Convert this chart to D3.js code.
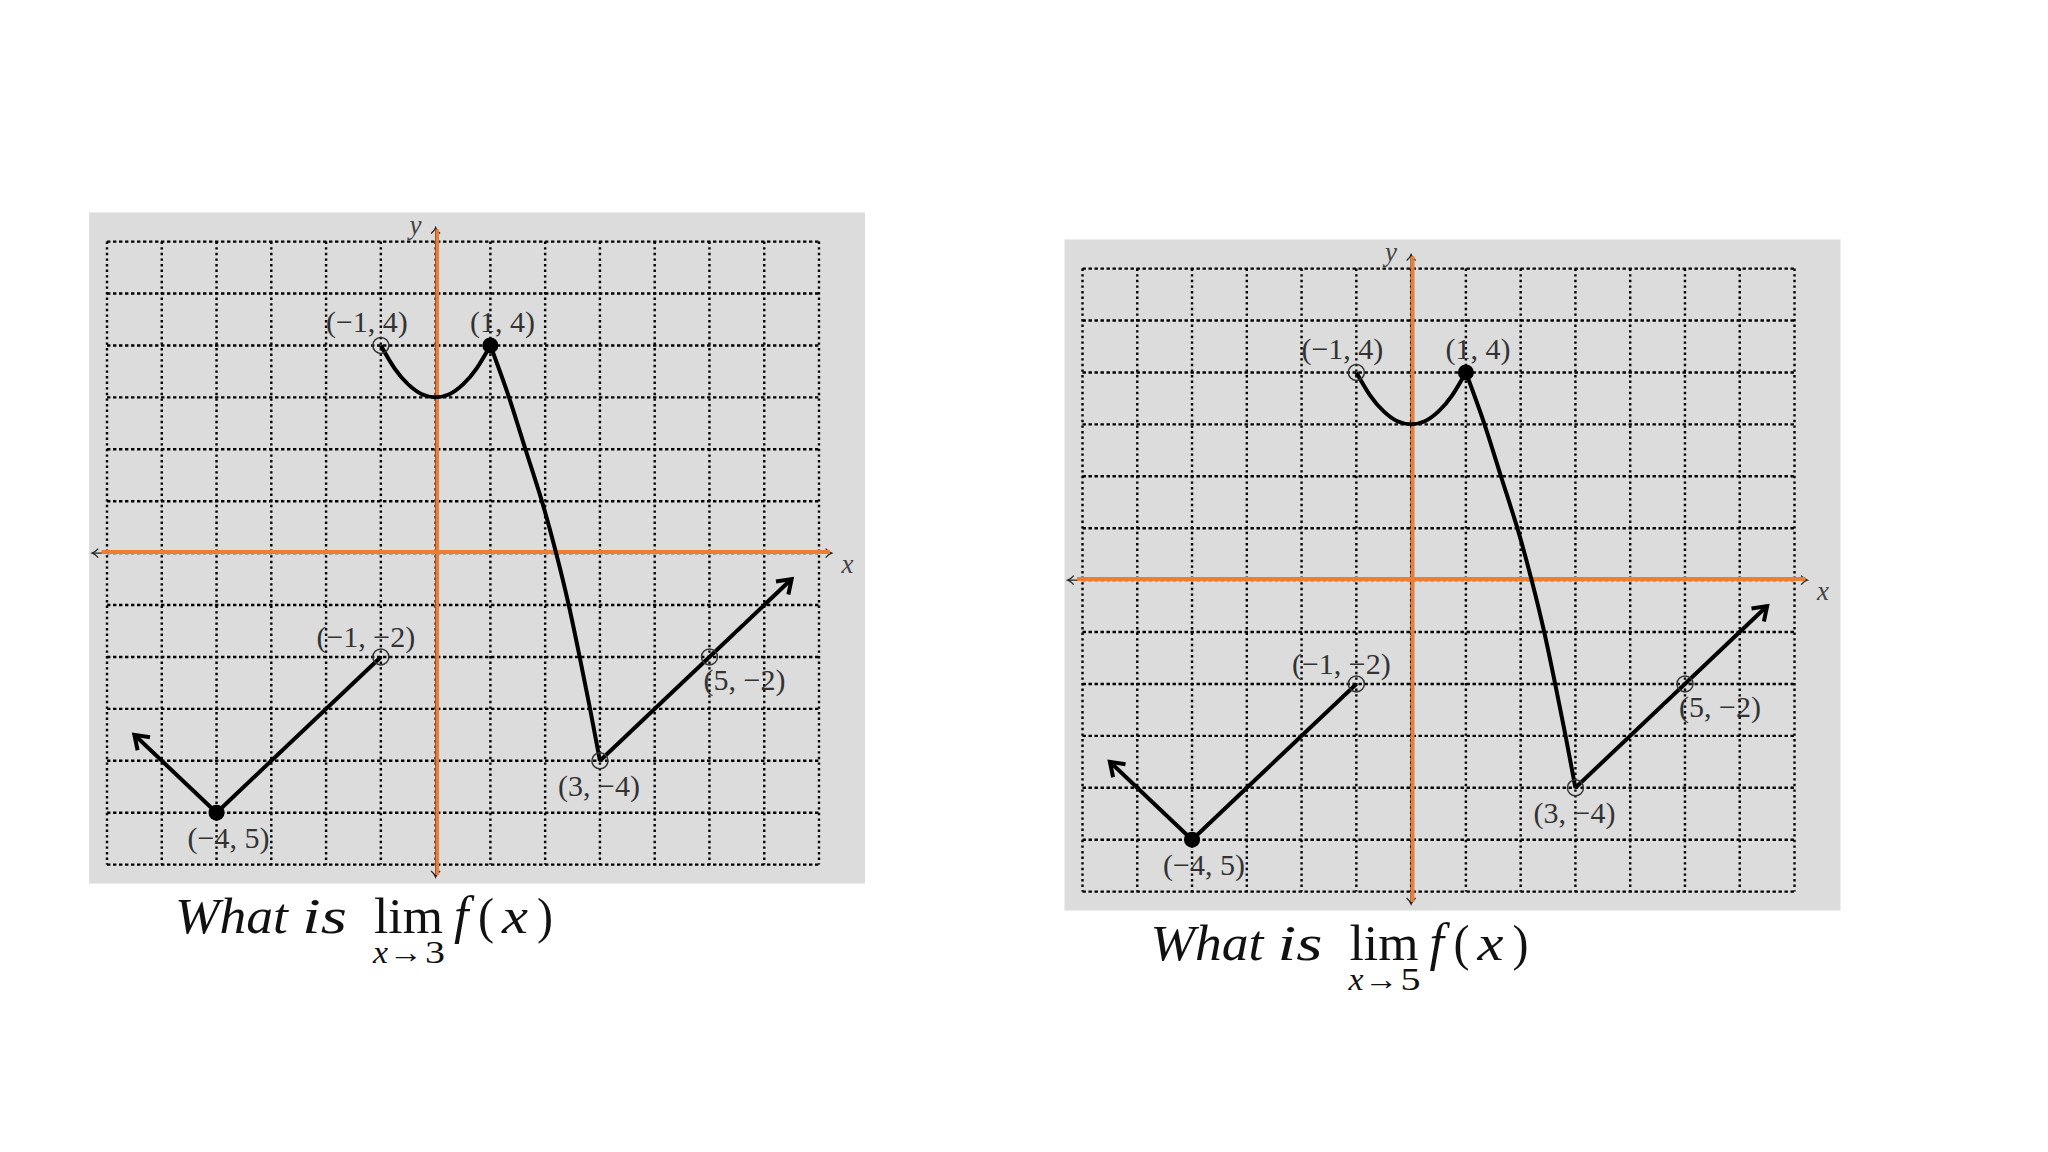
<!DOCTYPE html>
<html><head><meta charset="utf-8">
<script src="https://cdn.jsdelivr.net/npm/d3@7"></script>
<style>html,body{margin:0;padding:0;background:#fff}</style>
</head><body>
<svg id="c" width="2048" height="1152" xmlns="http://www.w3.org/2000/svg"></svg>
<script>
// ---------- data ----------
const xTicks = [-6,-5,-4,-3,-2,-1,0,1,2,3,4,5,6,7];
const yTicks = [-6,-5,-4,-3,-2,-1,0,1,2,3,4,5,6];
const leftRay = [[-4,-5],[-5.5,-3.5]];
const leftSegment = [[-4,-5],[-1,-2]];
const bowl = [[-1,4],[-0.75,3.56],[-0.5,3.25],[-0.25,3.06],[0,3],[0.25,3.06],[0.5,3.25],[0.75,3.56],[1,4]];
const drop = [[1,4],[1.34,3],[1.64,2],[1.94,1],[2.2,0],[2.43,-1],[2.63,-2],[2.82,-3],[3,-4]];
const rightRay = [[3,-4],[6.5,-0.5]];
const markerX = [-1,1,-1,3,-4,5];
const markerY = [4,4,-2,-4,-5,-2];
const markerFilled = [false,true,false,false,true,false];
const markerLabels = ["(−1, 4)","(1, 4)","(−1, −2)","(3, −4)","(−4, 5)","(5, −2)"];
const limitTargets = ["3","5"];

// ---------- layout ----------
const labelOffsets = [[-14,-13],[12,-13],[-15,-10],[-1,35],[12,35],[35,33]];
const panelOffsets = [[0,0],[975.5,27]];
const ORANGE = "#ED7D31";

const svg = d3.select("#c");
svg.append("rect").attr("width",2048).attr("height",1152).attr("fill","#fff");

const defs = svg.append("defs");
defs.append("marker").attr("id","curveArrow").attr("markerUnits","userSpaceOnUse")
  .attr("viewBox","-20 -12 24 24").attr("markerWidth",24).attr("markerHeight",24)
  .attr("refX",0).attr("refY",0).attr("orient","auto")
  .append("path").attr("d","M-13,-9 L0,0 L-13,9").attr("fill","none")
  .attr("stroke","#000").attr("stroke-width",4).attr("stroke-linejoin","miter");
defs.append("marker").attr("id","axisArrow").attr("markerUnits","userSpaceOnUse")
  .attr("viewBox","-10 -8 12 16").attr("markerWidth",12).attr("markerHeight",16)
  .attr("refX",0).attr("refY",0).attr("orient","auto-start-reverse")
  .append("path").attr("d","M-6,-4.5 Q-3,-1 0,0 Q-3,1 -6,4.5").attr("fill","none")
  .attr("stroke","#222").attr("stroke-width",1.3);

const x = d3.scaleLinear().domain([-6,7]).range([107,819]);
const y = d3.scaleLinear().domain([-6,6]).range([864.6,241.6]);
const line = d3.line().x(d=>x(d[0])).y(d=>y(d[1]));

limitTargets.forEach((target,pi)=>{
  const g = svg.append("g").attr("transform",`translate(${panelOffsets[pi][0]},${panelOffsets[pi][1]})`);
  g.append("rect").attr("x",89).attr("y",212.5).attr("width",776).attr("height",671).attr("fill","#dcdcdc");
  // grid
  g.append("g").selectAll("line").data(xTicks).join("line")
    .attr("x1",d=>x(d)).attr("x2",d=>x(d)).attr("y1",y(6)).attr("y2",y(-6))
    .attr("stroke","#000").attr("stroke-width",2.4).attr("stroke-dasharray","2.4,3.2");
  g.append("g").selectAll("line").data(yTicks).join("line")
    .attr("y1",d=>y(d)).attr("y2",d=>y(d)).attr("x1",x(-6)).attr("x2",x(7))
    .attr("stroke","#000").attr("stroke-width",2.4).attr("stroke-dasharray","3.4,2.6");
  // axes
  g.append("line").attr("x1",x(-6.27)).attr("x2",x(7.23)).attr("y1",y(0)).attr("y2",y(0))
    .attr("stroke","#222").attr("stroke-width",1.2)
    .attr("marker-start","url(#axisArrow)").attr("marker-end","url(#axisArrow)");
  g.append("line").attr("x1",x(0)).attr("x2",x(0)).attr("y1",y(6.27)).attr("y2",y(-6.24))
    .attr("stroke","#222").attr("stroke-width",1.2)
    .attr("marker-start","url(#axisArrow)").attr("marker-end","url(#axisArrow)");
  g.append("line").attr("x1",x(-6.1)).attr("x2",x(7.2)).attr("y1",y(0)-1.2).attr("y2",y(0)-1.2)
    .attr("stroke",ORANGE).attr("stroke-width",4);
  g.append("line").attr("x1",x(0)+1.6).attr("x2",x(0)+1.6).attr("y1",y(6.24)).attr("y2",y(-6.2))
    .attr("stroke",ORANGE).attr("stroke-width",3.6);
  g.append("text").attr("x",x(0)-26).attr("y",y(6)-8).text("y")
    .attr("font-family","Liberation Serif").attr("font-style","italic").attr("font-size",27).attr("fill","#444");
  g.append("text").attr("x",x(7.23)+10).attr("y",y(0)+20).text("x")
    .attr("font-family","Liberation Serif").attr("font-style","italic").attr("font-size",27).attr("fill","#444");

  // function graph
  const common = sel => sel.attr("fill","none").attr("stroke","#000").attr("stroke-width",4).attr("stroke-linecap","butt");
  g.append("path").attr("d",line(leftRay)).call(common).attr("marker-end","url(#curveArrow)");
  g.append("path").attr("d",line(leftSegment)).call(common);
  g.append("path").attr("d",line.curve(d3.curveNatural)(bowl)).call(common);
  g.append("path").attr("d",line.curve(d3.curveNatural)(drop)).call(common);
  line.curve(d3.curveLinear);
  g.append("path").attr("d",line(rightRay)).call(common).attr("marker-end","url(#curveArrow)");

  // markers
  markerX.forEach((mx,i)=>{
    if (markerFilled[i]) {
      g.append("circle").attr("cx",x(mx)).attr("cy",y(markerY[i])).attr("r",8).attr("fill","#000");
    } else {
      g.append("circle").attr("cx",x(mx)).attr("cy",y(markerY[i])).attr("r",8)
        .attr("fill","none").attr("stroke","#333").attr("stroke-width",1.5);
    }
    g.append("text").attr("x",x(mx)+labelOffsets[i][0]).attr("y",y(markerY[i])+labelOffsets[i][1])
      .attr("text-anchor","middle").attr("font-family","Liberation Serif").attr("font-size",30)
      .attr("fill","#333").text(markerLabels[i]);
  });

  // question
  const q = g.append("g").attr("fill","#111").attr("font-family","Liberation Serif");
  const piece = (tx,px,size,italic,len) => {
    const t = q.append("text").attr("x",px).attr("y",size>40?933:963).attr("font-size",size)
      .attr("font-style",italic?"italic":"normal").text(tx);
    if (len) t.attr("textLength",len).attr("lengthAdjust","spacingAndGlyphs");
    return t;
  };
  piece("What",175,50,true,113);
  piece("is",302,50,true,45);
  piece("lim",374,50,false,69);
  piece("f",454,52,true,0);
  piece("(",478,50,false,16);
  piece("x",502,50,true,26);
  piece(")",537,50,false,16);
  piece("x",373,31,true,15);
  piece("→",389,31,false,34);
  piece(target,425,31,false,20);
});
</script>
</body></html>
